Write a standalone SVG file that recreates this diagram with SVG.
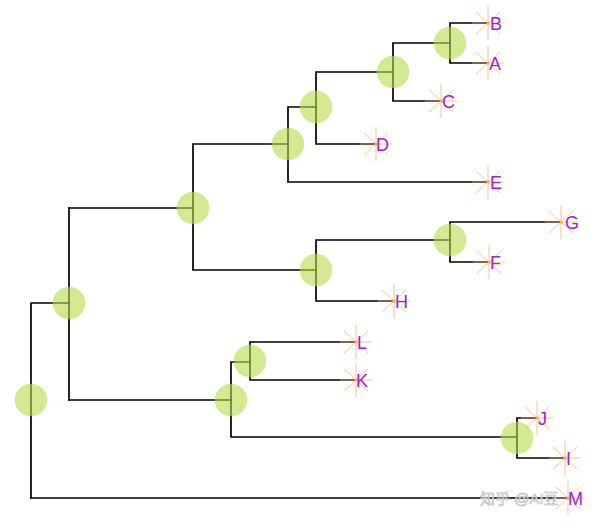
<svg xmlns="http://www.w3.org/2000/svg" xmlns:xlink="http://www.w3.org/1999/xlink" width="600" height="528" viewBox="0 0 600 528">
<style>
.br{fill:none;stroke:#000;stroke-width:1.7;stroke-linecap:square}
.nd{fill:#b5dc4a;fill-opacity:0.6}
.ray{stroke:#f2a96a;stroke-width:1;stroke-opacity:0.7}
.lb{font-family:"Liberation Sans",Arial,sans-serif;font-size:18px;fill:#9d22d4}
.wm{font-family:"Liberation Sans","Noto Sans CJK SC",sans-serif;font-size:15px;fill:#ffffff;fill-opacity:0.85;stroke:#b4b4b4;stroke-width:0.6}
</style>
<defs>
<g id="star">
<line class="ray" x1="0" y1="-17" x2="0" y2="17"/>
<line class="ray" x1="-16" y1="0" x2="16" y2="0"/>
<line class="ray" x1="-12" y1="-11" x2="12" y2="11"/>
<line class="ray" x1="-12" y1="11" x2="12" y2="-11"/>
<circle r="1.6" fill="#f5b04a"/>
</g>
</defs>
<rect width="600" height="528" fill="#fff"/>
<g id="connectors">
<path class="br" d="M31,498V303H69"/>
<path class="br" d="M31,498H568"/>
<path class="br" d="M69,208V400"/>
<path class="br" d="M69,208H193M69,400H231"/>
<path class="br" d="M193,144V270M193,144H288M193,270H316"/>
<path class="br" d="M288,107V182M288,107H316M288,182H488"/>
<path class="br" d="M316,72V144M316,72H393M316,144H376"/>
<path class="br" d="M393,43V101M393,43H450M393,101H441"/>
<path class="br" d="M450,23V63M450,23H488M450,63H488"/>
<path class="br" d="M316,240V301M316,240H450M316,301H394"/>
<path class="br" d="M450,222V262M450,222H561M450,262H489"/>
<path class="br" d="M231,362V437M231,362H250M231,437H517"/>
<path class="br" d="M250,342V380M250,342H356M250,380H356"/>
<path class="br" d="M517,418V458M517,418H537M517,458H565"/>
</g>
<g id="n-root"><circle class="nd" cx="31" cy="400" r="16.3"/></g>
<g id="n1"><circle class="nd" cx="69" cy="303" r="16.3"/></g>
<g id="n2"><circle class="nd" cx="193" cy="208" r="16.3"/></g>
<g id="n3"><circle class="nd" cx="288" cy="144" r="16.3"/></g>
<g id="n4"><circle class="nd" cx="316" cy="107" r="16.3"/></g>
<g id="n5"><circle class="nd" cx="393" cy="72" r="16.3"/></g>
<g id="n6"><circle class="nd" cx="450" cy="43" r="16.3"/></g>
<g id="n7"><circle class="nd" cx="316" cy="270" r="16.3"/></g>
<g id="n8"><circle class="nd" cx="450" cy="240" r="16.3"/></g>
<g id="n9"><circle class="nd" cx="231" cy="400" r="16.3"/></g>
<g id="n10"><circle class="nd" cx="250" cy="361" r="16.3"/></g>
<g id="n11"><circle class="nd" cx="517" cy="438" r="16.3"/></g>
<g id="tip-B"><use xlink:href="#star" x="488" y="23"/><text class="lb" x="490" y="30">B</text></g>
<g id="tip-A"><use xlink:href="#star" x="488" y="63"/><text class="lb" x="489" y="70">A</text></g>
<g id="tip-C"><use xlink:href="#star" x="441" y="101"/><text class="lb" x="442" y="108">C</text></g>
<g id="tip-D"><use xlink:href="#star" x="376" y="144"/><text class="lb" x="376" y="151">D</text></g>
<g id="tip-E"><use xlink:href="#star" x="488" y="182"/><text class="lb" x="490" y="189">E</text></g>
<g id="tip-G"><use xlink:href="#star" x="561" y="222"/><text class="lb" x="565" y="229">G</text></g>
<g id="tip-F"><use xlink:href="#star" x="489" y="262"/><text class="lb" x="490" y="269">F</text></g>
<g id="tip-H"><use xlink:href="#star" x="394" y="301"/><text class="lb" x="395" y="308">H</text></g>
<g id="tip-L"><use xlink:href="#star" x="356" y="342"/><text class="lb" x="357" y="349">L</text></g>
<g id="tip-K"><use xlink:href="#star" x="356" y="380"/><text class="lb" x="356" y="387">K</text></g>
<g id="tip-J"><use xlink:href="#star" x="537" y="418"/><text class="lb" x="538" y="425">J</text></g>
<g id="tip-I"><use xlink:href="#star" x="565" y="458"/><text class="lb" x="566" y="465">I</text></g>
<g id="tip-M"><use xlink:href="#star" x="568" y="498"/><text class="lb" x="568" y="505">M</text></g>
<text class="wm" x="480" y="504">知乎 @AI豆</text>
</svg>
